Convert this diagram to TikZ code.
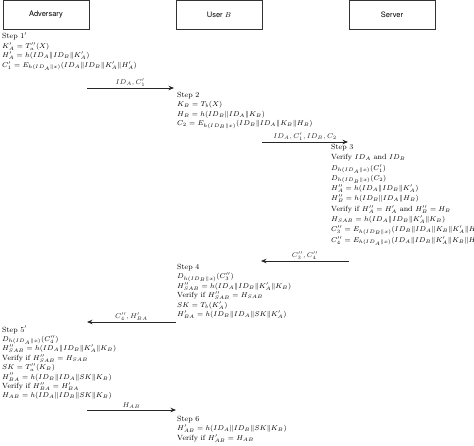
\documentclass[tikz,border=0pt]{standalone}
\usepackage{amsmath,amssymb}
\usepackage{fontspec}
\setsansfont{TeX Gyre Heros}
\usepackage{tikz}
\usetikzlibrary{arrows.meta,positioning}

\begin{document}
\begin{tikzpicture}[
    x=1pt, y=-1pt,
    party/.style={rectangle, draw=black!80, line width=0.6pt, minimum width=86pt, minimum height=28.5pt, font=\sffamily\fontsize{7.5}{9}\selectfont},
    steptext/.style={anchor=north west, inner sep=0pt, align=left, font=\fontsize{7.5}{9.4}\selectfont},
    msg/.style={-{Stealth[length=5.5pt,width=4.5pt]}, line width=0.8pt, black!85},
    lbl/.style={midway, above=1pt, inner sep=0pt, font=\fontsize{7.5}{9}\selectfont},
]
    \useasboundingbox (0,0) rectangle (474,445);

    % Parties
    \node[party] (adv) at (46,15) {Adversary};
    \node[party] (usb) at (219,15) {User $B$};
    \node[party] (srv) at (392,15) {Server};

    % Step 1'
    \node[steptext] (s1) at (2,33) {Step 1$'$\\
        $K'_A = T''_a(X)$\\
        $H'_A = h(ID_A\|ID_B\|K'_A)$\\
        $C'_1 = E_{h(ID_A\|x)}(ID_A\|ID_B\|K'_A\|H'_A)$};
    \coordinate (m1s) at (87,88);
    \coordinate (m1e) at (174,88);
    \draw[msg] (m1s) -- (m1e) node[lbl] {$ID_A, C'_1$};

    % Step 2
    \node[steptext] (s2) at (177,92) {Step 2\\
        $K_B = T_b(X)$\\
        $H_B = h(ID_B\|ID_A\|K_B)$\\
        $C_2 = E_{h(ID_B\|x)}(ID_B\|ID_A\|K_B\|H_B)$};
    \coordinate (m2s) at (262,142);
    \coordinate (m2e) at (348,142);
    \draw[msg] (m2s) -- (m2e) node[lbl] {$ID_A, C'_1, ID_B, C_2$};

    % Step 3
    \node[steptext, font=\fontsize{7.5}{10.3}\selectfont] (s3) at (331,144) {Step 3\\
        Verify $ID_A$ and $ID_B$\\
        $D_{h(ID_A\|x)}(C'_1)$\\
        $D_{h(ID_B\|x)}(C_2)$\\
        $H''_A = h(ID_A\|ID_B\|K'_A)$\\
        $H''_B = h(ID_B\|ID_A\|H_B)$\\
        Verify if $H''_A = H'_A$ and $H''_B = H_B$\\
        $H_{SAB} = h(ID_A\|ID_B\|K'_A\|K_B)$\\
        $C''_3 = E_{h(ID_B\|x)}(ID_B\|ID_A\|K_B\|K'_A\|H_{SAB})$\\
        $C''_4 = E_{h(ID_A\|x)}(ID_A\|ID_B\|K'_A\|K_B\|H_{SAB})$};
    \coordinate (m3s) at (349,261);
    \coordinate (m3e) at (261,261);
    \draw[msg] (m3s) -- (m3e) node[lbl] {$C''_3, C''_4$};

    % Step 4
    \node[steptext] (s4) at (177,264) {Step 4\\
        $D_{h(ID_B\|x)}(C''_3)$\\
        $H''_{SAB} = h(ID_A\|ID_B\|K'_A\|K_B)$\\
        Verify if $H''_{SAB} = H_{SAB}$\\
        $SK = T_b(K'_A)$\\
        $H'_{BA} = h(ID_B\|ID_A\|SK\|K'_A)$};
    \coordinate (m4s) at (176,322);
    \coordinate (m4e) at (87,322);
    \draw[msg] (m4s) -- (m4e) node[lbl] {$C''_4, H'_{BA}$};

    % Step 5'
    \node[steptext] (s5) at (2,326) {Step 5$'$\\
        $D_{h(ID_A\|x)}(C''_4)$\\
        $H''_{SAB} = h(ID_A\|ID_B\|K'_A\|K_B)$\\
        Verify if $H''_{SAB} = H_{SAB}$\\
        $SK = T''_a(K_B)$\\
        $H''_{BA} = h(ID_B\|ID_A\|SK\|K_B)$\\
        Verify if $H''_{BA} = H'_{BA}$\\
        $H_{AB} = h(ID_A\|ID_B\|SK\|K_B)$};
    \coordinate (m5s) at (87,410);
    \coordinate (m5e) at (176,410);
    \draw[msg] (m5s) -- (m5e) node[lbl] {$H_{AB}$};

    % Step 6
    \node[steptext] (s6) at (177,416) {Step 6\\
        $H'_{AB} = h(ID_A\|ID_B\|SK\|K_B)$\\
        Verify if $H'_{AB} = H_{AB}$};
\end{tikzpicture}
\end{document}
